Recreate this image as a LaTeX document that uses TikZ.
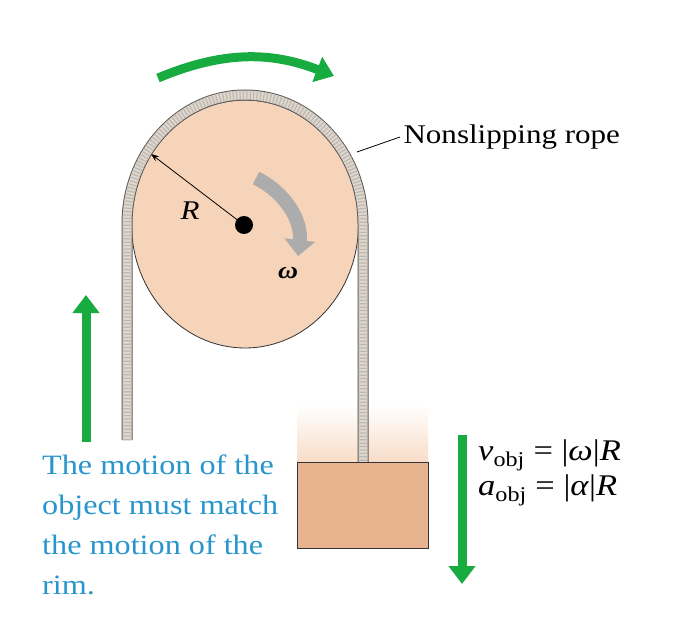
\documentclass[tikz,border=0pt]{standalone}
\usepackage{fontspec}
\setmainfont{Liberation Serif}[FakeStretch=1.15]
\usetikzlibrary{arrows.meta,shapes.geometric}
\definecolor{disk}{RGB}{246,212,186}
\definecolor{blockc}{RGB}{232,180,143}
\definecolor{grn}{RGB}{24,172,64}
\definecolor{blu}{RGB}{40,150,205}
\definecolor{ropec}{RGB}{226,214,200}
\tikzset{
  ropeA/.style={line width=11pt,draw=gray!70!black},
  ropeB/.style={line width=9pt,draw=ropec},
  ropeC/.style={line width=9pt,draw=gray!55,dash pattern=on 1.2pt off 2.2pt},
  garrow/.style={line width=9pt,draw=grn,-{Triangle[length=18pt,width=26pt]}},
  lbl/.style={font=\fontsize{27}{32}\selectfont}
}
\begin{document}
\begin{tikzpicture}[x=1pt,y=-1pt]
\useasboundingbox (0,0) rectangle (700,636);
% fade above block
\shade[top color=white,bottom color=disk!80] (297,405) rectangle (428,462);
% disk
\node[draw=black!80,fill=disk,ellipse,minimum width=227pt,minimum height=248pt,inner sep=0pt,line width=0.8pt] (disk) at (245,224) {};
% rope
\foreach \s in {ropeA,ropeB,ropeC}{
  \draw[\s] (127,440) -- (127,224) arc[start angle=180,end angle=360,x radius=118,y radius=129] -- (363,462);
}
% block
\node[draw=black!80,fill=blockc,minimum width=131pt,minimum height=86pt,inner sep=0pt,line width=0.8pt,anchor=north west] (block) at (297,462) {};
% center
\node[fill=black,circle,minimum size=18pt,inner sep=0pt] (c) at (244,225) {};
\coordinate (rim) at (151,154);
\draw[-{Stealth[length=8pt]},line width=0.8pt] (c.center) -- (rim);
\node[lbl,font=\itshape\fontsize{27}{32}\selectfont] (R) at (190,211) {R};
% rotation arrow
\draw[line width=14pt,draw=gray!65,-{Triangle[length=16pt,width=30pt]}] (256,178) to[bend left=35] (298,256);
\node[lbl,font=\itshape\bfseries\fontsize{24}{28}\selectfont] (w) at (288,273) {ω};
% rope label
\coordinate (lp) at (357,152);
\node[lbl,anchor=west] (nr) at (400,137) {Nonslipping rope};
\draw[line width=0.8pt] (lp) -- (nr.west);
% green arrows
\coordinate (t1) at (158,78); \coordinate (t2) at (334,76);
\draw[garrow] (t1) to[bend left=22] (t2);
\coordinate (l1) at (86,442); \coordinate (l2) at (86,295);
\draw[garrow] (l1) -- (l2);
\coordinate (d1) at (462,435); \coordinate (d2) at (462,584);
\draw[garrow] (d1) -- (d2);
% text
\node[anchor=north west,align=left,text=blu,font=\fontsize{28}{40}\selectfont,inner sep=0pt] (mt) at (42,455) {The motion of the\\object must match\\the motion of the\\rim.};
\node[anchor=west,font=\fontsize{30}{34}\selectfont,inner sep=0pt] (e1) at (478,455) {\textit{v}\textsubscript{obj} = |\textit{ω}|\textit{R}};
\node[anchor=west,font=\fontsize{30}{34}\selectfont,inner sep=0pt] (e2) at (478,490) {\textit{a}\textsubscript{obj} = |\textit{α}|\textit{R}};
\end{tikzpicture}
\end{document}
